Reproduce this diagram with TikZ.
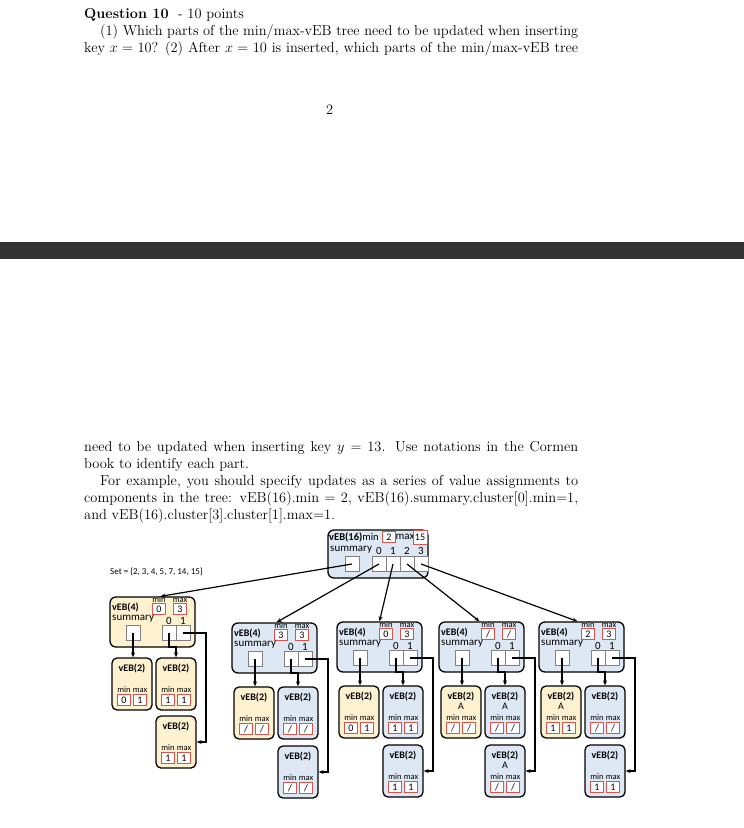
\documentclass[tikz,border=0pt]{standalone}
\usepackage{fontspec}
\newfontfamily\dfont{Carlito}
\usetikzlibrary{arrows.meta}
\definecolor{yel}{HTML}{FDF1CF}
\definecolor{blu}{HTML}{DDE8F4}
\definecolor{redb}{HTML}{D9534F}
\newcommand\vebtwo[7]{%
 \node[v2box,fill=#4] (#1) at (#2+20,#3+26) {};
 \node[lbl] at (#2+20,#3+11) {\bfseries vEB(2)};
 \node[lbl] at (#2+20,#3+20) {#5};
 \node[sm] at (#2+12,#3+32){min}; \node[sm] at (#2+28,#3+32){max};
 \node[valbox] (#1v1) at (#2+12,#3+42){#6}; \node[valbox] (#1v2) at (#2+28,#3+42){#7};
}
\newcommand\vebfour[6]{%
 \node[v4box,fill=#4] (#1) at (#2+42.5,#3+25){};
 \node[lbl,anchor=west] at (#2+2,#3+11){\bfseries vEB(4)};
 \node[sm] at (#2+49,#3+3){min}; \node[sm] at (#2+70,#3+3){max};
 \node[valbox] (#1min) at (#2+49,#3+12){#5}; \node[valbox] (#1max) at (#2+70,#3+12){#6};
 \node[lblr,anchor=west] at (#2+2,#3+22){summary};
 \node[lblr] at (#2+59,#3+24){0}; \node[lblr] at (#2+73,#3+24){1};
 \node[ptr] (#1s) at (#2+23,#3+36){};
 \node[ptr] (#1c0) at (#2+59,#3+36){};
 \node[ptr] (#1c1) at (#2+73,#3+36){};
}
\newcommand\vebconn[3]{%
 \draw[arr] (#1s.center) -- (#1s.center |- #1a.north);
 \draw[arr] (#1c0.center) -- ++(0,14) -| (#1b.north);
 \draw[arr] (#1c1.center) -- (#2+96,#3+36) |- (#1c.east);
}
\begin{document}
\begin{tikzpicture}[x=1pt,y=-1pt,
 txt/.style={anchor=base west,inner sep=0,font=\fontsize{14.4}{17}\selectfont},
 v2box/.style={draw,line width=1.3pt,rounded corners=5pt,minimum width=40pt,minimum height=52pt,inner sep=0},
 v4box/.style={draw,line width=1.3pt,rounded corners=6pt,minimum width=85pt,minimum height=50pt,inner sep=0},
 lbl/.style={inner sep=0,font=\dfont\fontsize{10}{10}\selectfont},
 lblr/.style={inner sep=0,font=\dfont\fontsize{11}{11}\selectfont},
 sm/.style={inner sep=0,font=\dfont\fontsize{8.5}{8.5}\selectfont},
 valbox/.style={draw=redb,line width=0.8pt,fill=white,minimum width=13pt,minimum height=11pt,inner sep=0,font=\dfont\fontsize{10}{10}\selectfont},
 ptr/.style={draw=gray,line width=1pt,fill=white,minimum width=14pt,minimum height=15pt,inner sep=0},
 arr/.style={line width=1.2pt,-{Stealth[length=5pt,width=4pt]}}]
\useasboundingbox (0,0) rectangle (744,828);
\fill[white] (0,0) rectangle (744,828);
% page text
\node[txt] (t1) at (84,18) {\textbf{Question 10} \ - 10 points};
\node[txt] (t2) at (100,35) {\makebox[478pt][s]{(1) Which parts of the min/max-vEB tree need to be updated when inserting}};
\node[txt] (t3) at (84,52) {\makebox[494pt][s]{key $x=10$? (2) After $x=10$ is inserted, which parts of the min/max-vEB tree}};
\node[txt] (pg) at (326,114) {2};
\fill[black!80] (0,242) rectangle (744,259);
\node[txt] (t4) at (84,451) {\makebox[494pt][s]{need to be updated when inserting key $y=13$. Use notations in the Cormen}};
\node[txt] (t5) at (84,468) {book to identify each part.};
\node[txt] (t6) at (100,485) {\makebox[478pt][s]{For example, you should specify updates as a series of value assignments to}};
\node[txt] (t7) at (84,502) {\makebox[494pt][s]{components in the tree: vEB(16).min = 2, vEB(16).summary.cluster[0].min=1,}};
\node[txt] (t8) at (84,519) {and vEB(16).cluster[3].cluster[1].max=1.};
% root
\node[v4box,fill=blu,minimum width=100pt,minimum height=48pt] (root) at (378,554) {};
\node[lbl,anchor=west,font=\dfont\fontsize{10.5}{11}\selectfont] at (329,537) {\textbf{vEB(16)}min};
\node[valbox] (rmin) at (389,537) {2};
\node[lblr] at (405,537) {max};
\node[valbox,minimum width=14pt,minimum height=14pt] (rmax) at (420,537) {15};
\node[lblr,anchor=west] at (330,550) {summary};
\node[lblr] at (379,551) {0}; \node[lblr] at (393,551) {1}; \node[lblr] at (407,551) {2}; \node[lblr] at (421,551) {3};
\node[ptr] (rs) at (352,564) {};
\node[ptr] (r0) at (379,564) {}; \node[ptr] (r1) at (393,564) {}; \node[ptr] (r2) at (407,564) {}; \node[ptr] (r3) at (421,564) {};
\node[anchor=west,inner sep=0,font=\dfont\fontsize{9}{9}\selectfont] (set) at (110,572) {Set = \{2, 3, 4, 5, 7, 14, 15\}};
% left
\vebfour{L}{110}{597}{yel}{0}{3}
\vebtwo{La}{112}{658}{yel}{}{0}{1}
\vebtwo{Lb}{156}{658}{yel}{}{1}{1}
\vebtwo{Lc}{156}{716}{yel}{}{1}{1}
\vebconn{L}{110}{597}
% A
\vebfour{A}{232}{623}{blu}{3}{3}
\vebtwo{Aa}{234}{687}{yel}{}{/}{/}
\vebtwo{Ab}{278}{687}{blu}{}{/}{/}
\vebtwo{Ac}{278}{746}{blu}{}{/}{/}
\vebconn{A}{232}{623}
% B
\vebfour{B}{337}{622}{blu}{0}{3}
\vebtwo{Ba}{339}{686}{yel}{}{0}{1}
\vebtwo{Bb}{383}{686}{blu}{}{1}{1}
\vebtwo{Bc}{383}{745}{blu}{}{1}{1}
\vebconn{B}{337}{622}
% C
\vebfour{C}{439}{622}{blu}{/}{/}
\vebtwo{Ca}{441}{686}{yel}{A}{/}{/}
\vebtwo{Cb}{485}{686}{blu}{A}{/}{/}
\vebtwo{Cc}{485}{745}{blu}{A}{/}{/}
\vebconn{C}{439}{622}
% D
\vebfour{D}{539}{622}{blu}{2}{3}
\vebtwo{Da}{541}{686}{yel}{A}{1}{1}
\vebtwo{Db}{585}{686}{blu}{}{/}{/}
\vebtwo{Dc}{585}{745}{blu}{}{1}{1}
\vebconn{D}{539}{622}
% root arrows
\draw[arr] (rs.center) -- ([xshift=8pt]L.north);
\draw[arr] (r0.center) -- ([xshift=2pt]A.north);
\draw[arr] (r1.center) -- (B.north);
\draw[arr] (r2.center) -- ([xshift=-2pt]C.north);
\draw[arr] (r3.center) -- ([xshift=-4pt]D.north);
\end{tikzpicture}
\end{document}
